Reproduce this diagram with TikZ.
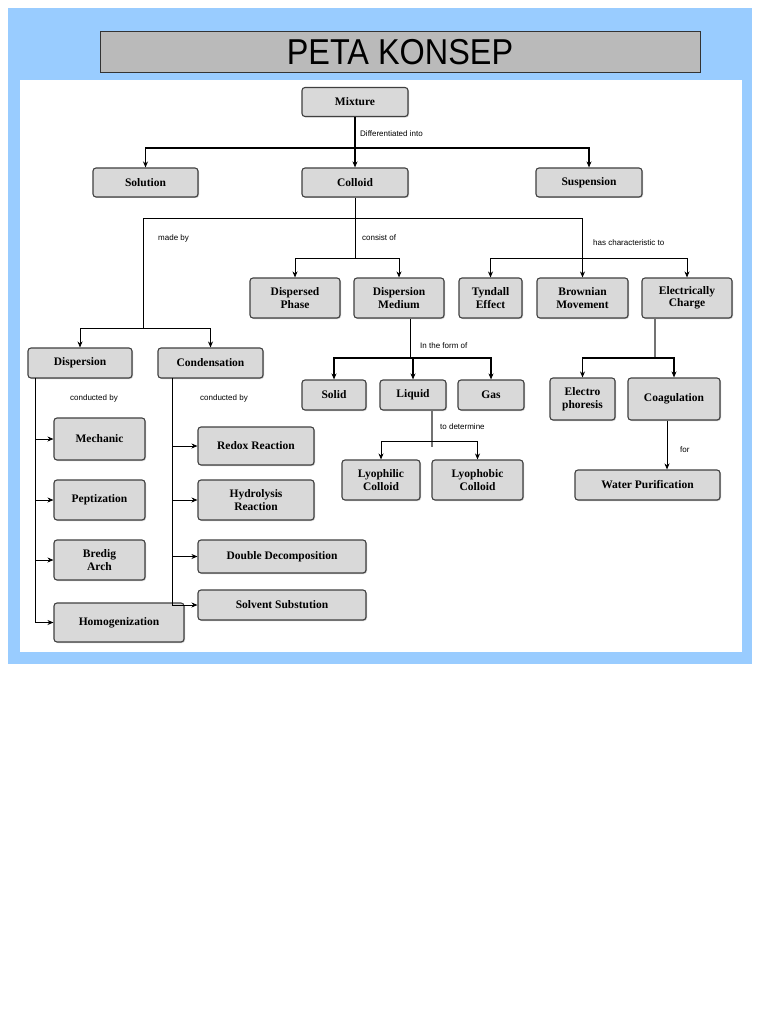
\documentclass[tikz,border=0pt]{standalone}
\usepackage{fontspec}
\setmainfont{Liberation Serif}
\newfontfamily\sansf{Liberation Sans}
\usetikzlibrary{arrows.meta,shadows}
\begin{document}
\begin{tikzpicture}[x=1pt,y=-1pt,
 box/.style={draw=black!75,line width=1.1pt,rounded corners=3pt,fill=black!15,
   drop shadow={shadow xshift=1pt,shadow yshift=-1pt,opacity=.4},
   font=\fontsize{11.5}{12.5}\selectfont\bfseries,align=center,inner sep=1pt},
 lab/.style={font=\sansf\fontsize{8}{9}\selectfont,anchor=west,inner sep=0pt},
 ln/.style={line width=0.8pt},
 bl/.style={line width=1.8pt},
 arr/.style={ln,-{Stealth[length=6pt,width=5pt]}},
 barr/.style={bl,-{Stealth[length=6pt,width=5pt]}}]
\useasboundingbox (0,0) rectangle (768,1024);
\fill[white] (0,0) rectangle (768,1024);
\fill[fill={rgb,255:red,153;green,204;blue,255}] (8,8) rectangle (752,664);
\fill[white] (20,80) rectangle (742,652);
\node[draw=black!80,line width=1pt,fill=black!27,minimum width=600pt,minimum height=41pt,
  font=\sansf\fontsize{36}{38}\selectfont,inner sep=0pt] (title) at (400,52.5) {\scalebox{0.9}[1]{PETA KONSEP}};
% row 1
\node[box,minimum width=106pt,minimum height=29pt] (mix) at (355,102) {Mixture};
\node[box,minimum width=105pt,minimum height=29pt] (sol) at (145.5,182.5) {Solution};
\node[box,minimum width=106pt,minimum height=29pt] (col) at (355,182.5) {Colloid};
\node[box,minimum width=106pt,minimum height=29pt] (sus) at (589,182.5) {Suspension};
% row 2
\node[box,minimum width=90pt,minimum height=40pt] (dph) at (295,298) {Dispersed\\Phase};
\node[box,minimum width=90pt,minimum height=40pt] (dme) at (399,298) {Dispersion\\Medium};
\node[box,minimum width=63pt,minimum height=40pt] (tyn) at (490.5,298) {Tyndall\\Effect};
\node[box,minimum width=91pt,minimum height=40pt] (bro) at (582.5,298) {Brownian\\Movement};
\node[box,minimum width=90pt,minimum height=40pt] (ele) at (687,298) {Electrically\\Charge};
% row 3
\node[box,minimum width=104pt,minimum height=30pt] (dis) at (80,363) {Dispersion};
\node[box,minimum width=105pt,minimum height=30pt] (con) at (210.5,363) {Condensation};
\node[box,minimum width=64pt,minimum height=30pt] (solid) at (334,395) {Solid};
\node[box,minimum width=66pt,minimum height=30pt] (liq) at (413,395) {Liquid};
\node[box,minimum width=66pt,minimum height=30pt] (gas) at (491,395) {Gas};
\node[box,minimum width=65pt,minimum height=42pt] (elp) at (582.5,399) {Electro\\phoresis};
\node[box,minimum width=92pt,minimum height=42pt] (coa) at (674,399) {Coagulation};
\node[box,minimum width=78pt,minimum height=40pt] (lyi) at (381,480) {Lyophilic\\Colloid};
\node[box,minimum width=91pt,minimum height=40pt] (lyo) at (477.5,480) {Lyophobic\\Colloid};
\node[box,minimum width=145pt,minimum height=30pt] (wat) at (647.5,485) {Water Purification};
% dispersion children
\node[box,minimum width=91pt,minimum height=42pt] (mec) at (99.5,439) {Mechanic};
\node[box,minimum width=91pt,minimum height=40pt] (pep) at (99.5,500) {Peptization};
\node[box,minimum width=91pt,minimum height=40pt] (bre) at (99.5,560) {Bredig\\Arch};
\node[box,minimum width=130pt,minimum height=39pt] (hom) at (119,622.5) {Homogenization};
% condensation children
\node[box,minimum width=116pt,minimum height=38pt] (red) at (256,446) {Redox Reaction};
\node[box,minimum width=116pt,minimum height=40pt] (hyd) at (256,500) {Hydrolysis\\Reaction};
\node[box,minimum width=168pt,minimum height=33pt] (dbl) at (282,556.5) {Double Decomposition};
\node[box,minimum width=168pt,minimum height=30pt] (slv) at (282,605) {Solvent Substution};
% connectors top
\coordinate (j1) at (355,148);
\draw[bl] (mix.south) -- (j1);
\draw[barr] (j1) -| (sol.north);
\draw[barr] (j1) -- (col.north);
\draw[barr] (j1) -| (sus.north);
\node[lab] at (360,134) {Differentiated into};
\coordinate (j2) at (355,218);
\draw[ln] (col.south) -- (j2);
\coordinate (jm) at (143,328);
\draw[ln] (j2) -| (jm);
\draw[arr] (jm) -| (dis.north);
\draw[arr] (jm) -| (con.north);
\node[lab] at (158,238) {made by};
\coordinate (jc) at (355,258);
\draw[ln] (j2) -- (jc);
\draw[arr] (jc) -| (dph.north);
\draw[arr] (jc) -| (dme.north);
\node[lab] at (362,238) {consist of};
\draw[arr] (j2) -| (bro.north);
\coordinate (jh) at (582.5,258);
\draw[arr] (jh) -| (tyn.north);
\draw[arr] (jh) -| (ele.north);
\node[lab] at (593,243) {has characteristic to};
% dispersion medium
\coordinate (jd) at (410,358);
\draw[ln] (dme.south -| jd) -- (jd);
\draw[barr] (jd) -| (solid.north);
\draw[barr] (jd) -| (liq.north);
\draw[barr] (jd) -| (gas.north);
\node[lab] at (420,346) {In the form of};
\coordinate (jl) at (432,441);
\draw[ln,black!55,line width=1.5pt] (liq.south -| jl) -- (432,447);
\draw[arr] (jl) -| (lyi.north);
\draw[arr] (jl) -| (lyo.north);
\node[lab] at (440,427) {to determine};
% electrical
\coordinate (je) at (655,358);
\draw[ln,black!55,line width=1.8pt] (ele.south -| je) -- (je);
\draw[barr] (je) -| (elp.north);
\draw[barr] (je) -| (coa.north);
\coordinate (cw) at (667,0);
\draw[arr] (coa.south -| cw) -- (wat.north -| cw);
\node[lab] at (680,450) {for};
% dispersion children
\coordinate (dv) at (35,378);
\foreach \n in {mec,pep,bre,hom} \draw[arr] (dv) |- (\n.west);
\node[lab] at (70,398) {conducted by};
\coordinate (cv) at (172,378);
\foreach \n in {red,hyd,dbl,slv} \draw[arr] (cv) |- (\n.west);
\node[lab] at (200,398) {conducted by};
\end{tikzpicture}
\end{document}
